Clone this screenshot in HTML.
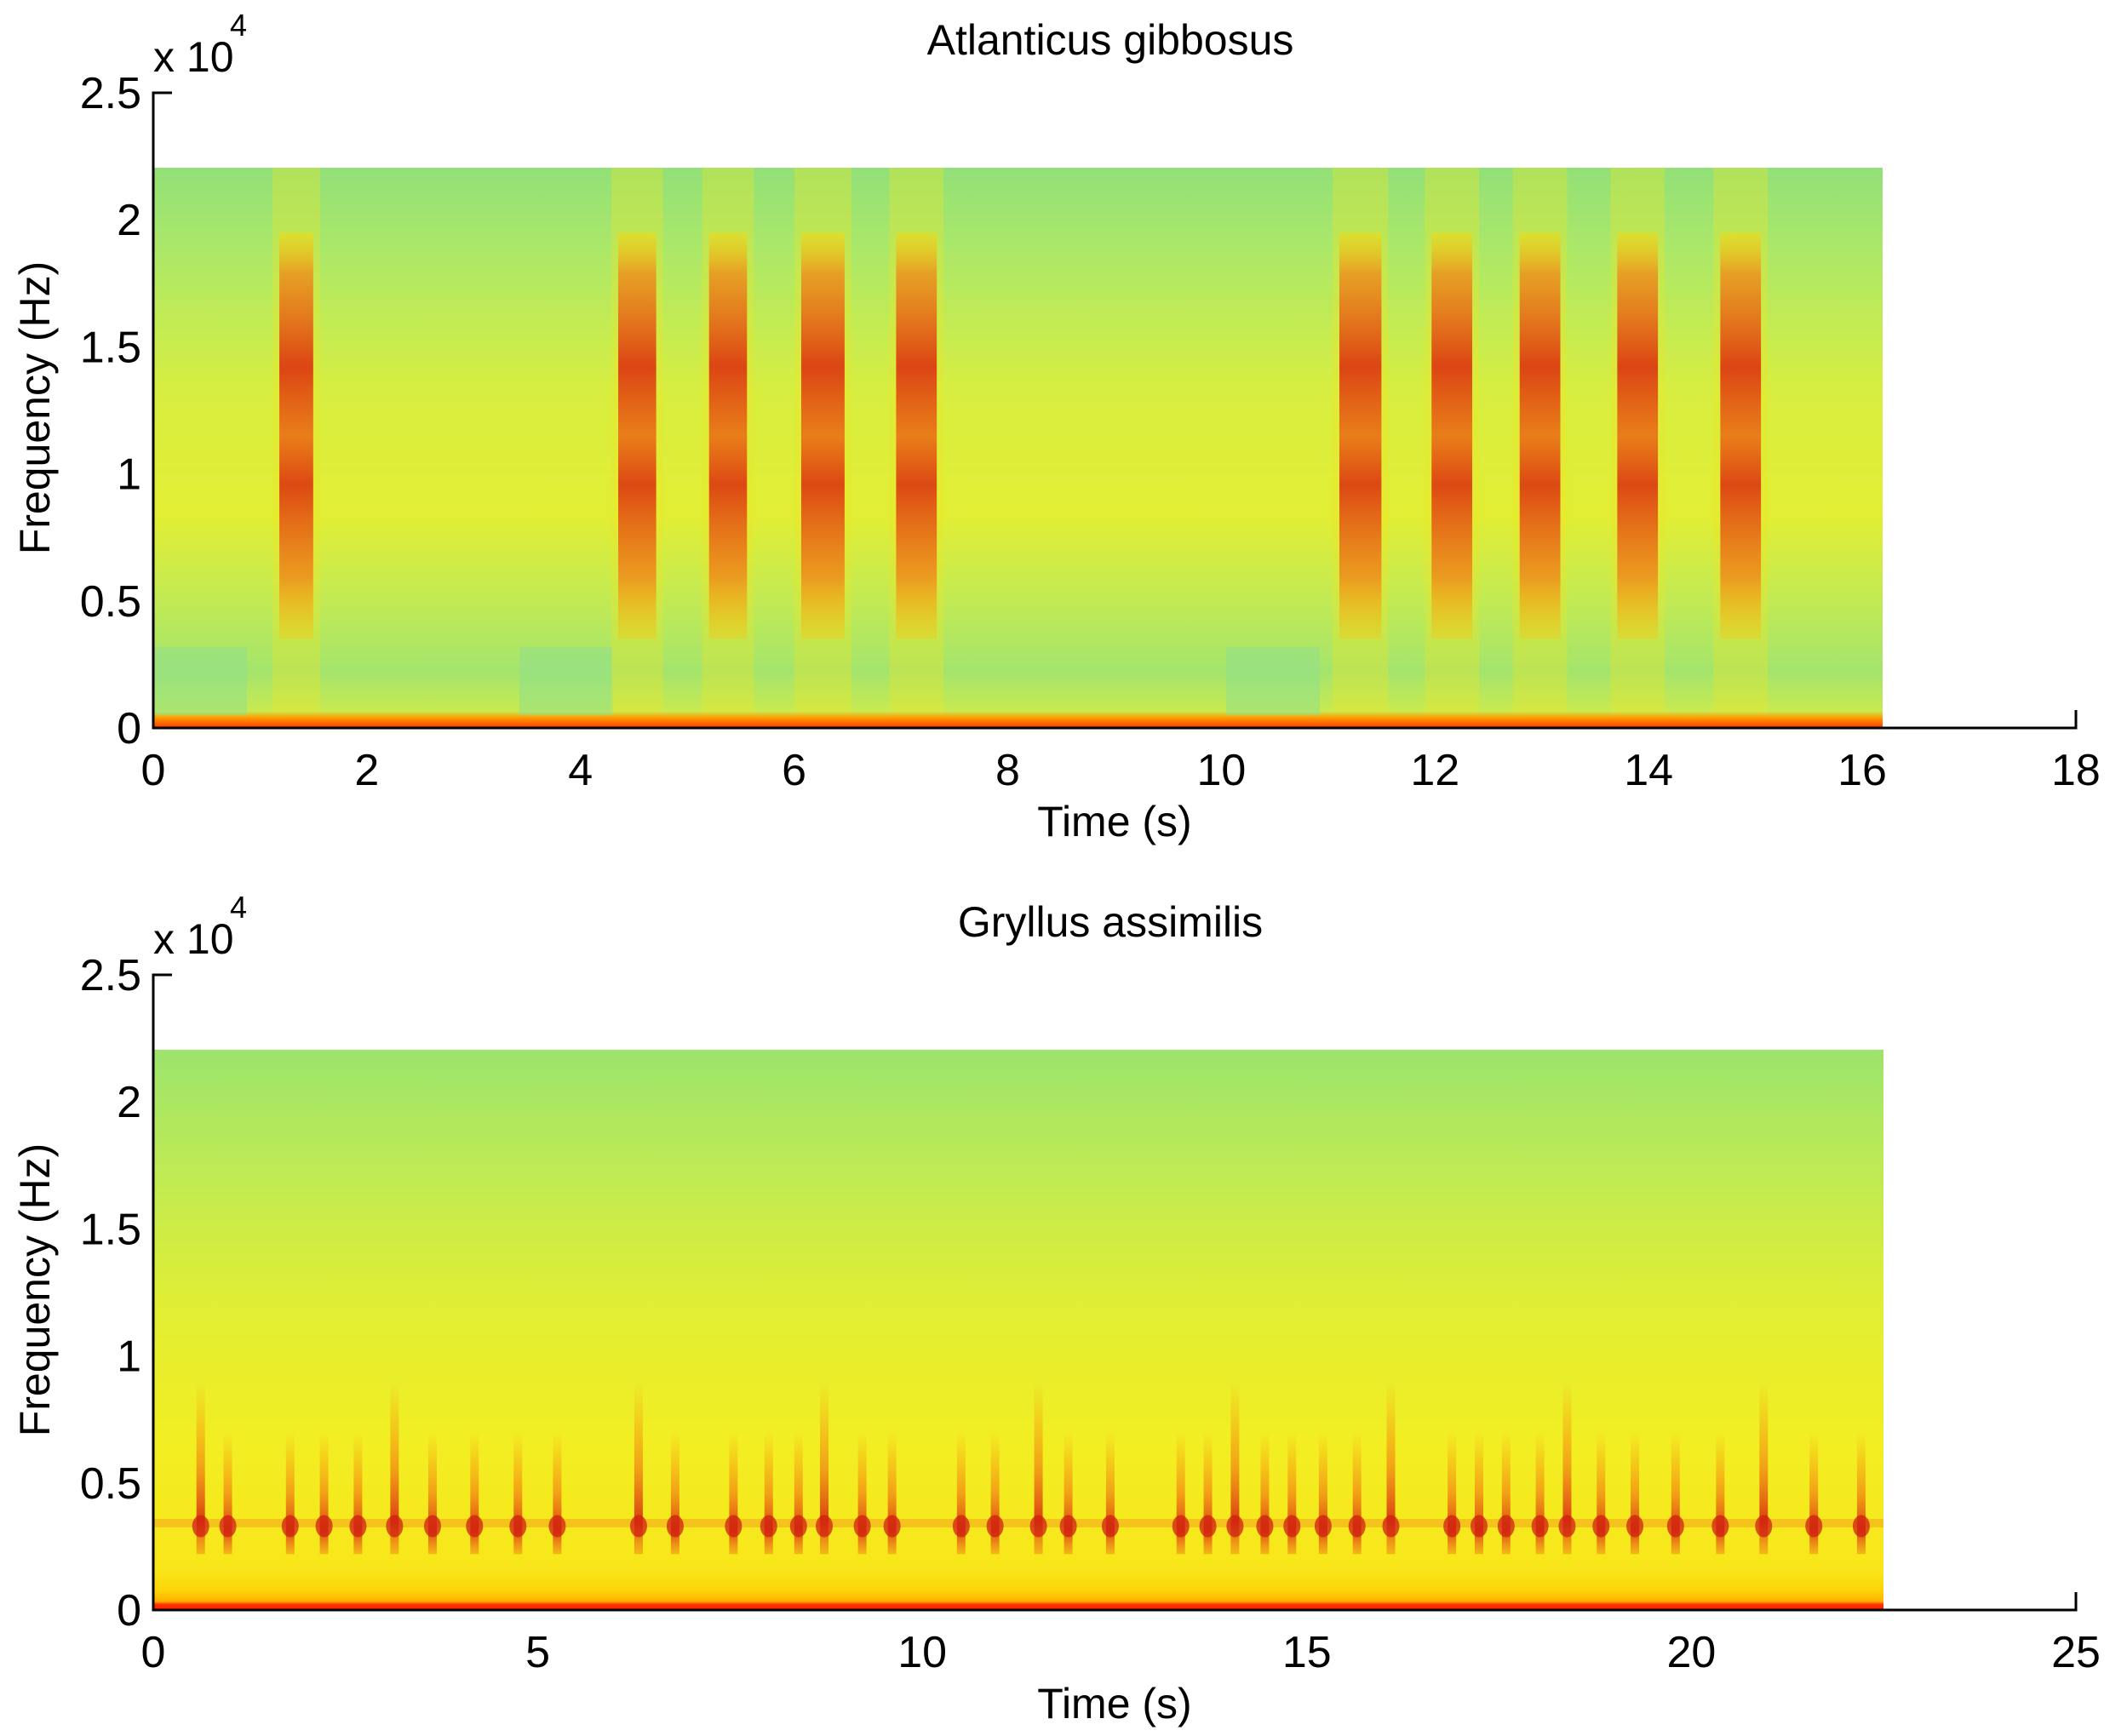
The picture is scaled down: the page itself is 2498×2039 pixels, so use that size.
<!DOCTYPE html>
<html><head><meta charset="utf-8"><style>
html,body{margin:0;padding:0;background:#fff}
svg{display:block}
text{font-family:"Liberation Sans",Arial,sans-serif;fill:#000}
</style></head><body>
<svg id="s" width="2498" height="2039" viewBox="0 0 2498 2039" xmlns="http://www.w3.org/2000/svg">
<defs>
<linearGradient id="bg1" x1="0" y1="0" x2="0" y2="1">
<stop offset="0" stop-color="#92e078"/><stop offset="0.15" stop-color="#ace868"/>
<stop offset="0.4" stop-color="#d8ee40"/><stop offset="0.62" stop-color="#e2ee34"/>
<stop offset="0.78" stop-color="#c0ea55"/><stop offset="0.9" stop-color="#a4e46c"/>
<stop offset="0.97" stop-color="#c8ea50"/><stop offset="0.982" stop-color="#ff9a00"/><stop offset="1" stop-color="#ff3a00"/>
</linearGradient>
<linearGradient id="bg2" x1="0" y1="0" x2="0" y2="1">
<stop offset="0" stop-color="#9ce46c"/><stop offset="0.2" stop-color="#bcea56"/>
<stop offset="0.45" stop-color="#e0ee34"/><stop offset="0.7" stop-color="#f2ee22"/>
<stop offset="0.93" stop-color="#f8e61a"/><stop offset="0.965" stop-color="#fcd408"/>
<stop offset="0.985" stop-color="#ffb000"/><stop offset="0.99" stop-color="#ff3000"/><stop offset="1" stop-color="#ff2000"/>
</linearGradient>
<linearGradient id="burst" x1="0" y1="0" x2="0" y2="1">
<stop offset="0" stop-color="#ffd800" stop-opacity="0.4"/>
<stop offset="0.1" stop-color="#f08818" stop-opacity="0.75"/>
<stop offset="0.33" stop-color="#dc3c12" stop-opacity="0.95"/>
<stop offset="0.5" stop-color="#ea6a14" stop-opacity="0.85"/>
<stop offset="0.62" stop-color="#dc4012" stop-opacity="0.95"/>
<stop offset="0.85" stop-color="#f08818" stop-opacity="0.8"/>
<stop offset="1" stop-color="#ffc000" stop-opacity="0.3"/>
</linearGradient>
<linearGradient id="spike" x1="0" y1="0" x2="0" y2="1">
<stop offset="0" stop-color="#ff8000" stop-opacity="0"/>
<stop offset="0.5" stop-color="#f07010" stop-opacity="0.6"/>
<stop offset="0.8" stop-color="#d83010" stop-opacity="0.9"/>
<stop offset="1" stop-color="#f07010" stop-opacity="0.4"/>
</linearGradient>
</defs>
<g id="g1">
<rect x="180" y="197" width="2031" height="658" fill="url(#bg1)"/>
<rect x="180" y="760" width="110" height="80" fill="#8ee090" opacity="0.5"/>
<rect x="610" y="760" width="110" height="80" fill="#8ee090" opacity="0.5"/>
<rect x="1440" y="760" width="110" height="80" fill="#8ee090" opacity="0.5"/>
</g>
<g id="g2">
<rect x="180" y="1233" width="2032" height="658" fill="url(#bg2)"/>
<rect x="180" y="1784" width="2032" height="10" fill="#f08020" opacity="0.35"/>
</g>
<g fill="none" stroke="#000" stroke-width="3">
<path d="M202 109H180V855H2438V834"/>
<path d="M202 1145H180V1891H2438V1870"/>
</g>
<g font-size="50">
<text x="1304" y="64" text-anchor="middle">Atlanticus gibbosus</text>
<text x="1304" y="1100" text-anchor="middle">Gryllus assimilis</text>
<text x="180" y="84">x 10</text><text x="270" y="42" font-size="36">4</text>
<text x="180" y="1120">x 10</text><text x="270" y="1078" font-size="36">4</text>
<text x="1309" y="982" text-anchor="middle">Time (s)</text>
<text x="1309" y="2018" text-anchor="middle">Time (s)</text>
<text transform="translate(58 479) rotate(-90)" text-anchor="middle">Frequency (Hz)</text>
<text transform="translate(58 1515) rotate(-90)" text-anchor="middle">Frequency (Hz)</text>
</g>
<g id="ticks" font-size="52"></g>
<script>
var s=document.getElementById('s'),NS='http://www.w3.org/2000/svg';
function el(p,t,a,tx){var e=document.createElementNS(NS,t);for(var k in a)e.setAttribute(k,a[k]);if(tx!==undefined)e.textContent=tx;p.appendChild(e);return e;}
var tk=document.getElementById('ticks');
function dx(x){return 180+(x-112)*1.592;}
[0,1036].forEach(function(o){
 ['0','0.5','1','1.5','2','2.5'].forEach(function(l,i){var y=855+o-i*149.2;el(tk,'text',{x:166,y:y+18,'text-anchor':'end'},l);});
});
for(var i=0;i<=9;i++)el(tk,'text',{x:180+i*2*125.44,y:922,'text-anchor':'middle'},String(i*2));
for(var i=0;i<=5;i++)el(tk,'text',{x:180+i*5*90.32,y:1958,'text-anchor':'middle'},String(i*5));
var g1=document.getElementById('g1');
var b=[[205,230],[455,483],[522,550],[590,622],[660,690],[987,1018],[1055,1085],[1120,1150],[1192,1222],[1268,1298]];
b.forEach(function(r){var x1=dx(r[0]),x2=dx(r[1]);
 el(g1,'rect',{x:x1-8,y:197,width:x2-x1+16,height:640,fill:'#eae428',opacity:0.35});
 el(g1,'rect',{x:x1,y:855-1.95*298.4,width:x2-x1,height:(1.95-0.35)*298.4,fill:'url(#burst)'});
});
var g2=document.getElementById('g2');
var sp=[147,167,213,238,263,290,318,349,381,410,470,497,540,566,588,607,635,657,708,733,765,787,818,870,890,910,932,952,975,1000,1025,1070,1090,1110,1135,1155,1180,1205,1235,1268,1300,1337,1372];
sp.forEach(function(x,i){var X=dx(x),h=(i%5==0?0.9:0.7)*298.4;
 el(g2,'rect',{x:X-5,y:1891-h,width:10,height:h-298.4*0.22,fill:'url(#spike)'});
 el(g2,'ellipse',{cx:X,cy:1891-0.33*298.4,rx:10,ry:13,fill:'#d02010',opacity:0.75});
});
</script>
</svg>
</body></html>
